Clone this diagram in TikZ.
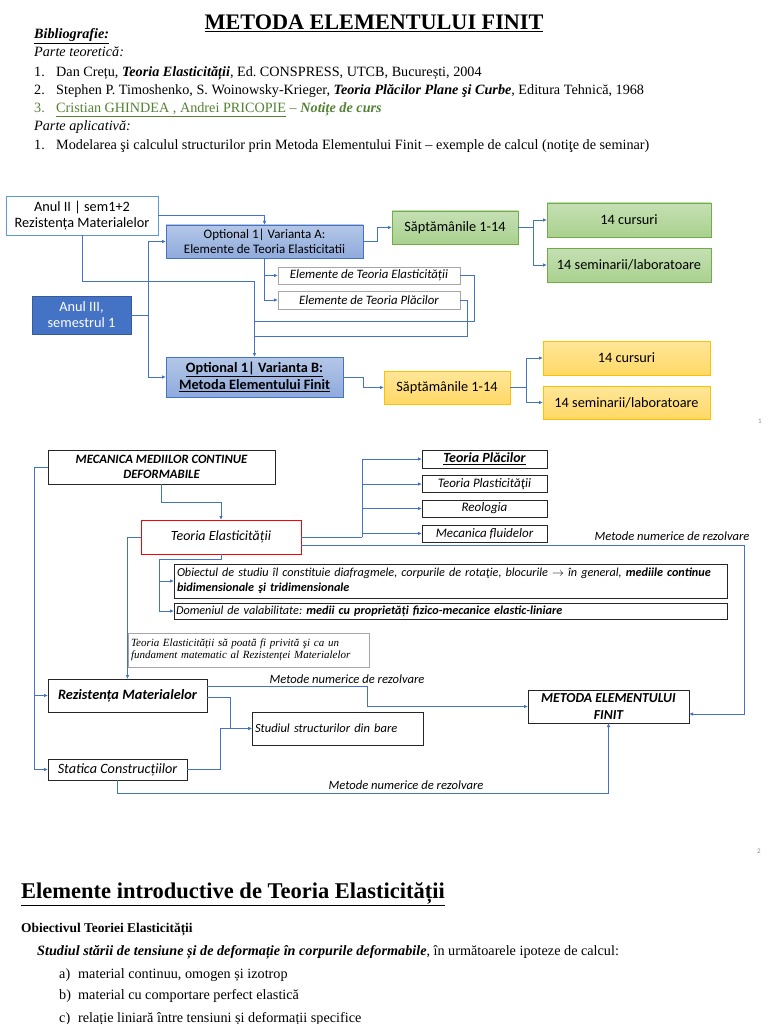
\documentclass[tikz,border=0pt]{standalone}
\usepackage{fontspec}
\setmainfont{Liberation Serif}
\newfontfamily\calfont{Carlito}
\usetikzlibrary{calc,arrows.meta}
\frenchspacing

\definecolor{lnblue}{RGB}{68,114,196}
\definecolor{optfill}{RGB}{143,170,220}
\definecolor{opttop}{RGB}{180,199,231}
\definecolor{grnfill}{RGB}{169,209,142}
\definecolor{grntop}{RGB}{197,224,180}
\definecolor{grnline}{RGB}{112,173,71}
\definecolor{orgfill}{RGB}{255,217,102}
\definecolor{orgtop}{RGB}{255,230,153}
\definecolor{orgline}{RGB}{255,192,0}
\definecolor{lightblue}{RGB}{91,155,213}
\definecolor{greyline}{RGB}{166,166,166}
\definecolor{bibgreen}{RGB}{84,130,53}

\tikzset{
  box/.style={draw, rectangle, inner sep=1pt, outer sep=0pt, align=center,
    font=\calfont\fontsize{14.3}{16}\selectfont},
  optbox/.style={box, draw=lnblue, top color=opttop, bottom color=optfill,
    font=\calfont\fontsize{13}{15}\selectfont},
  grnbox/.style={box, draw=grnline, top color=grntop, bottom color=grnfill, line width=0.8pt},
  orgbox/.style={box, draw=orgline, top color=orgtop, bottom color=orgfill, line width=0.8pt},
  itbox/.style={box, draw=greyline, font=\calfont\itshape\fontsize{12.8}{14}\selectfont},
  blkbox/.style={box, draw=black!85, line width=0.9pt},
  lbl/.style={inner sep=0pt, font=\calfont\itshape\fontsize{12.6}{14}\selectfont},
  conn/.style={draw=lnblue, line width=0.8pt},
  arr/.style={conn, -{Latex[length=4pt,width=3.5pt]}},
  bib/.style={anchor=base west, inner sep=0pt, font=\fontsize{14.2}{16}\selectfont},
}

\begin{document}
\begin{tikzpicture}[x=1pt,y=-1pt]
\fill[white] (0,0) rectangle (768,1024);
\useasboundingbox (0,0) rectangle (768,1024);
\clip (0,0) rectangle (768,1024);

% header
\node[anchor=base, inner sep=0pt, font=\bfseries\fontsize{22.2}{25}\selectfont] (title) at (374,30) {\underline{METODA ELEMENTULUI FINIT}};
\node[bib, font=\bfseries\itshape\fontsize{14.2}{16}\selectfont] (biblio) at (34,39) {\underline{Bibliografie:}};
\node[bib] (teor) at (34,57) {\itshape Parte teoretică:};
\node[bib] (n1) at (34,77) {1.};
\node[bib] (b1) at (56,77) {Dan Crețu, \textbf{\textit{Teoria Elasticității}}, Ed. CONSPRESS, UTCB, București, 2004};
\node[bib] (n2) at (34,95) {2.};
\node[bib] (b2) at (56,95) {Stephen P. Timoshenko, S. Woinowsky-Krieger, \textbf{\textit{Teoria Plăcilor Plane şi Curbe}}, Editura Tehnică, 1968};
\node[bib, text=bibgreen] (n3) at (34,113) {3.};
\node[bib, text=bibgreen] (b3) at (56,113) {\underline{Cristian GHINDEA , Andrei PRICOPIE} – \textbf{\textit{Notițe de curs}}};
\node[bib] (aplic) at (34,131) {\itshape Parte aplicativă:};
\node[bib] (n4) at (34,150) {1.};
\node[bib] (b4) at (56,150) {Modelarea şi calculul structurilor prin Metoda Elementului Finit – exemple de calcul (notiţe de seminar)};

% diagram 1
\node[box, draw=lightblue, minimum width=152pt, minimum height=39pt] (anul2) at (82,215.5) {Anul II | sem1+2\\Rezistența Materialelor};
\node[optbox, minimum width=197pt, minimum height=33pt] (varA) at (264.5,241.5) {Optional 1| Varianta A:\\Elemente de Teoria Elasticitatii};
\node[box, fill=lnblue, draw=lnblue!80!black, text=white, minimum width=99pt, minimum height=38pt] (anul3) at (81.5,315) {Anul III,\\semestrul 1};
\node[optbox, font=\calfont\bfseries\fontsize{14.3}{17}\selectfont, minimum width=177pt, minimum height=40pt] (varB) at (254.5,377) {\underline{Optional 1| Varianta B:}\\\underline{Metoda Elementului Finit}};
\node[grnbox, minimum width=126pt, minimum height=33pt] (saptA) at (455,227.5) {Săptămânile 1-14};
\node[grnbox, minimum width=164pt, minimum height=34pt] (cursA) at (629,220) {14 cursuri};
\node[grnbox, minimum width=164pt, minimum height=34pt] (semA) at (629,265) {14 seminarii/laboratoare};
\node[itbox, minimum width=182pt, minimum height=17pt] (elemTE) at (369,275.5) {Elemente de Teoria Elasticității};
\node[itbox, minimum width=182pt, minimum height=18pt] (elemTP) at (369,300) {Elemente de Teoria Plăcilor};
\node[orgbox, minimum width=126pt, minimum height=33pt] (saptB) at (447,387.5) {Săptămânile 1-14};
\node[orgbox, minimum width=167pt, minimum height=34pt] (cursB) at (626.5,358) {14 cursuri};
\node[orgbox, minimum width=167pt, minimum height=33pt] (semB) at (626.5,402.5) {14 seminarii/laboratoare};
\node[inner sep=0pt, text=black!45, font=\calfont\fontsize{7}{8}\selectfont] (pg1) at (760,421) {1};

\coordinate (mergeTE) at ($(varB.north)+(0,-36)$);
\coordinate (mergeTP) at ($(varB.north)+(0,-21)$);

\draw[arr] (anul2.east) -| (varA.north);
\draw[arr] (anul2.south) -- ++(0,46) -| (varB.north);
\draw[conn] (anul3.east) -- ++(17,0) coordinate (a3bus);
\draw[arr] (a3bus) |- (varA.west);
\draw[arr] (a3bus) |- (varB.west);
\draw[arr] (varA.south) |- (elemTE.west);
\draw[arr] (varA.south) |- (elemTP.west);
\draw[conn] (elemTE.east) -- ++(14,0) |- (mergeTE);
\draw[conn] (elemTP.east) -- ++(7,0) |- (mergeTP);
\draw[arr] (varA.east) -- ++(14,0) |- (saptA.west);
\draw[conn] (saptA.east) -- ++(15,0) coordinate (sAbus);
\draw[arr] (sAbus) |- (cursA.west);
\draw[arr] (sAbus) |- (semA.west);
\draw[arr] (varB.east) -- ++(20,0) |- (saptB.west);
\draw[conn] (saptB.east) -- ++(16,0) coordinate (sBbus);
\draw[arr] (sBbus) |- (cursB.west);
\draw[arr] (sBbus) |- (semB.west);

% diagram 2
\node[blkbox, font=\calfont\bfseries\itshape\fontsize{12.7}{15}\selectfont, minimum width=227pt, minimum height=34pt] (mmcd) at (161.5,467) {MECANICA MEDIILOR CONTINUE\\DEFORMABILE};
\node[box, draw=red, line width=0.9pt, font=\calfont\itshape\fontsize{14}{16}\selectfont, minimum width=160pt, minimum height=34pt] (teoEl) at (221,537) {Teoria Elasticității};
\node[blkbox, font=\calfont\bfseries\itshape\fontsize{14}{15}\selectfont, minimum width=125pt, minimum height=18pt] (tPlac) at (484.5,459) {\underline{Teoria Plăcilor}};
\node[blkbox, font=\calfont\itshape\fontsize{13}{14}\selectfont, minimum width=125pt, minimum height=17pt] (tPlast) at (484.5,484) {Teoria Plasticităţii};
\node[blkbox, font=\calfont\itshape\fontsize{13}{14}\selectfont, minimum width=125pt, minimum height=17pt] (reol) at (484.5,508.5) {Reologia};
\node[blkbox, font=\calfont\itshape\fontsize{13}{14}\selectfont, minimum width=125pt, minimum height=17pt] (mecFl) at (484.5,533.5) {Mecanica fluidelor};
\node[blkbox, align=left, inner sep=3pt, text width=547pt, minimum height=34pt, font=\calfont\itshape\fontsize{12.2}{15}\selectfont] (obiect) at (450.5,581) {Obiectul de studiu îl constituie diafragmele, corpurile de rotaţie, blocurile $\rightarrow$ în general, \textbf{mediile continue}\\\textbf{bidimensionale şi tridimensionale}};
\node[blkbox, align=left, inner sep=2pt, text width=549pt, minimum height=16pt, font=\calfont\itshape\fontsize{12.2}{13}\selectfont] (domen) at (450.5,611) {Domeniul de valabilitate: \textbf{medii cu proprietăți fizico-mecanice elastic-liniare}};
\node[box, draw=greyline, align=left, inner sep=3pt, text width=235pt, minimum height=34pt, font=\itshape\fontsize{11}{11.5}\selectfont] (note) at (248.5,650) {Teoria Elasticității să poată fi privită şi ca un\\fundament matematic al Rezistenței Materialelor};
\node[blkbox, font=\calfont\bfseries\itshape\fontsize{14.3}{16}\selectfont, minimum width=159pt, minimum height=33pt] (rez) at (127.5,695.5) {Rezistența Materialelor};
\node[blkbox, font=\calfont\bfseries\itshape\fontsize{13.7}{17}\selectfont, minimum width=161pt, minimum height=33pt] (mef) at (608.5,706.5) {METODA ELEMENTULUI\\FINIT};
\node[blkbox, align=left, inner sep=3pt, text width=165pt, minimum height=33pt, font=\calfont\itshape\fontsize{12.5}{14}\selectfont] (stud) at (337.5,728.5) {Studiul structurilor din bare};
\node[blkbox, font=\calfont\itshape\fontsize{14.2}{16}\selectfont, minimum width=139pt, minimum height=21pt] (stat) at (117.5,769.5) {Statica Construcțiilor};
\node[lbl] (metA) at (672,536) {Metode numerice de rezolvare};
\node[lbl] (metB) at (347,679) {Metode numerice de rezolvare};
\node[lbl] (metC) at (406,785) {Metode numerice de rezolvare};
\node[inner sep=0pt, text=black!45, font=\calfont\fontsize{7}{8}\selectfont] (pg2) at (759,851) {2};

\draw[arr] (mmcd.south) -- ++(0,18) -| (teoEl.north);
\draw[conn] (teoEl.east) -- ++(61,0) coordinate (teBus);
\draw[arr] (teBus) |- (tPlac.west);
\draw[arr] (teBus) |- (tPlast.west);
\draw[arr] (teBus) |- (reol.west);
\draw[arr] (teBus) |- (mecFl.west);
\draw[arr] ([yshift=-8pt]teoEl.east) -- ++(443,0) |- ([yshift=-7.5pt]mef.east);
\draw[arr] (teoEl.south) -- ++(0,5) -| ([xshift=-15pt]obiect.west) -- (obiect.west);
\draw[arr] ([xshift=-15pt]obiect.west) |- (domen.west);
\draw[arr] (teoEl.west) -| (rez.north);
\draw[conn] (mmcd.west) -- ++(-14,0) coordinate (mmBus);
\draw[arr] (mmBus) |- (rez.west);
\draw[arr] (mmBus) |- (stat.west);
\draw[arr] ([yshift=9.5pt]rez.east) -- ++(160,0) |- (mef.west);
\draw[arr] ([yshift=-1.5pt]rez.east) -- ++(23,0) |- (stud.west);
\draw[arr] (stat.east) -- ++(33,0) |- (stud.west);
\draw[arr] (stat.south) -- ++(0,13) -| (mef.south);

% section text
\node[anchor=base west, inner sep=0pt, font=\bfseries\fontsize{22.5}{25}\selectfont] (sect) at (21,898) {\underline{Elemente introductive de Teoria Elasticității}};
\node[bib, font=\bfseries\fontsize{13.4}{15}\selectfont] (obj) at (21,932) {Obiectivul Teoriei Elasticității};
\node[bib] (stud2) at (37,955) {\textbf{\textit{Studiul stării de tensiune și de deformație în corpurile deformabile}}, în următoarele ipoteze de calcul:};
\node[bib] (ia) at (59,978) {a)};
\node[bib] (ta) at (78,978) {material continuu, omogen și izotrop};
\node[bib] (ib) at (59,999) {b)};
\node[bib] (tb) at (78,999) {material cu comportare perfect elastică};
\node[bib] (ic) at (59,1022) {c)};
\node[bib] (tc) at (78,1022) {relație liniară între tensiuni și deformații specifice};
\end{tikzpicture}
\end{document}
